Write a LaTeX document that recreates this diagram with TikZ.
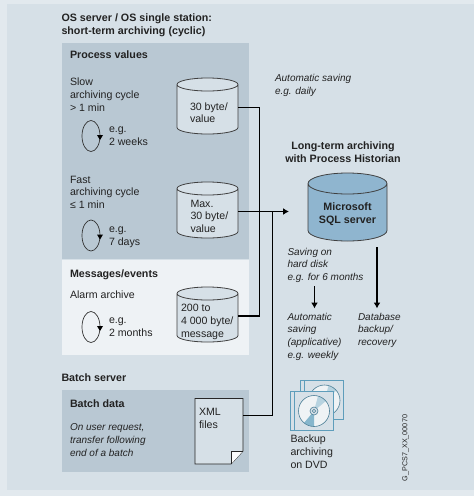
\documentclass[tikz,border=0pt]{standalone}
\usepackage{fontspec}
\setmainfont{Liberation Sans}
\usetikzlibrary{arrows.meta,calc}
\definecolor{bgc}{HTML}{D6E0E7}
\definecolor{rimc}{HTML}{E2E9EE}
\definecolor{panelc}{HTML}{B9C8D3}
\definecolor{lightc}{HTML}{EEF2F5}
\definecolor{cylc}{HTML}{D6E0E7}
\definecolor{sqlc}{HTML}{8FB5CF}
\definecolor{txtc}{HTML}{222222}
\definecolor{dvdc}{HTML}{5E9DBB}
\tikzset{
  every node/.style={text=txtc,inner sep=0pt,outer sep=0pt},
  lbl/.style={font=\fontsize{10.6}{12.6}\selectfont,anchor=north west,align=left},
  hd/.style={lbl,font=\fontsize{10.7}{12.8}\selectfont\bfseries},
  it/.style={lbl,font=\fontsize{10}{12.6}\selectfont\itshape},
  conn/.style={draw=black,line width=1.4pt},
  arr/.style={conn,-{Latex[length=6pt,width=7pt]}},
  panel/.style={fill=panelc,draw=none}
}
% cylinder: cx, top, bottom, rx, ry, fill, name
\newcommand{\mycyl}[7]{%
  \fill[#6] (#1-#4,#2+#5) -- (#1-#4,#3-#5) arc[start angle=180,end angle=0,x radius=#4,y radius=#5] -- (#1+#4,#2+#5) arc[start angle=0,end angle=-180,x radius=#4,y radius=#5] -- cycle;
  \draw[line width=0.8pt,draw=black!75] (#1-#4,#3-#5) -- (#1-#4,#2+#5) arc[start angle=180,end angle=540,x radius=#4,y radius=#5] (#1+#4,#2+#5) -- (#1+#4,#3-#5) arc[start angle=0,end angle=180,x radius=#4,y radius=#5];
  \coordinate (#7) at (#1+#4,{(#2+#3)/2});
}
\newcommand{\mycycle}[2]{%
  \draw[line width=0.7pt,draw=black!80] (#1,#2) ellipse[x radius=9,y radius=15.5];
  \fill[black] (#1+9,#2+4) -- (#1+6,#2-1) -- (#1+12,#2-1) -- cycle;
}
\newcommand{\mydvd}[3]{%
  \draw[draw=dvdc,fill=#3,line width=0.8pt] (#1,#2) rectangle ++(43,39);
  \draw[draw=dvdc,line width=0.8pt] (#1+4,#2) -- ++(0,39);
  \fill[white!60!bgc] (#1+24,#2+20) circle[radius=15.5];
  \fill[dvdc!75] (#1+24,#2+20) -- ++(90:15.5) arc[start angle=90,end angle=130,radius=15.5] -- cycle;
  \fill[dvdc!45] (#1+24,#2+20) -- ++(-40:15.5) arc[start angle=-40,end angle=-75,radius=15.5] -- cycle;
  \draw[draw=dvdc!80!black,fill=#3,line width=0.6pt] (#1+24,#2+20) circle[radius=4];
  \draw[draw=dvdc!80!black,line width=0.5pt] (#1+24,#2+20) circle[radius=1.7];
  \draw[draw=dvdc!80!black,line width=0.6pt] (#1+24,#2+20) circle[radius=15.5];
}
\begin{document}
\begin{tikzpicture}[x=1pt,y=-1pt]
\useasboundingbox (0,0) rectangle (474,496);
\fill[rimc] (0,0) rectangle (474,496);
\fill[bgc] (7,4) rectangle (474,490);
% panels
\fill[panel] (62,43) rectangle (249,259);
\fill[lightc] (62,260) rectangle (249,355);
\fill[panel] (62,390) rectangle (249,472);
% texts
\node[hd] (t1) at (61.5,13.5) {OS server / OS single station:\\short-term archiving (cyclic)};
\node[hd] (t2) at (70,51) {Process values};
\node[lbl,font=\fontsize{10.6}{13}\selectfont] (t3) at (70,78) {Slow\\archiving cycle\\> 1 min};
\node[lbl] (t4) at (109,127) {e.g.\\2 weeks};
\node[lbl] (t5) at (70,176) {Fast\\archiving cycle\\≤ 1 min};
\node[lbl] (t6) at (109,227) {e.g.\\7 days};
\node[hd] (t7) at (70,269.5) {Messages/events};
\node[lbl] (t8) at (70,291) {Alarm archive};
\node[lbl] (t9) at (109,318) {e.g.\\2 months};
\node[hd] (t10) at (61.5,374) {Batch server};
\node[hd] (t11) at (70,400) {Batch data};
\node[it] (t12) at (70,424) {On user request,\\transfer following\\end of a batch};
\node[it,font=\fontsize{10}{13}\selectfont\itshape] (t13) at (275,74.5) {Automatic saving\\e.g. daily};
\node[hd,align=center,anchor=north] (t14) at (343,142) {Long-term archiving\\with Process Historian};
\node[it] (t15) at (287.5,248) {Saving on\\hard disk\\e.g. for 6 months};
\node[it] (t16) at (287.5,313) {Automatic\\saving\\(applicative)\\e.g. weekly};
\node[it] (t17) at (358,313) {Database\\backup/\\recovery};
\node[lbl,font=\fontsize{10.6}{13}\selectfont] (t18) at (290.5,434.5) {Backup\\archiving\\on DVD};
\node[font=\fontsize{7.2}{8}\selectfont,rotate=90] (t19) at (405.5,448) {G\_PCS7\_XX\_00070};
% cylinders
\mycyl{207.5}{78}{134}{30.5}{6.5}{fill=cylc}{c1}
\mycyl{207.5}{182}{238}{30.5}{6.5}{fill=cylc}{c2}
\mycyl{207.5}{287}{342}{30.5}{6.5}{fill=cylc}{c3}
\mycyl{347.5}{173}{241}{39.5}{10.5}{fill=sqlc}{c4}
\node[lbl] (v1) at (190,102.5) {30 byte/\\value};
\node[lbl] (v2) at (190.5,200) {Max.\\30 byte/\\value};
\node[lbl] (v3) at (181,304.5) {200 to\\4 000 byte/\\message};
\node[hd,align=center,anchor=center] (v4) at (347.5,214.5) {Microsoft\\SQL server};
% cycle marks
\mycycle{91}{136}
\mycycle{91}{235.5}
\mycycle{91}{327}
% document
\draw[fill=cylc,draw=black!85,line width=0.8pt] (195,398.5) -- (243,398.5) -- (243,451) -- (231,464) -- (195,464) -- cycle;
\fill[white!90!bgc] (231,464) -- (243,451) -- (231,451) -- cycle;
\draw[draw=black!85,line width=0.6pt] (243,451) -- (231,451) -- (231,464);
\node[lbl] (v5) at (199,408.5) {XML\\files};
\coordinate (docr) at (243,415.5);
% connectors
\coordinate (b1) at (259.5,107.5);
\coordinate (b2) at (259.5,316);
\coordinate (j1) at (272.5,211.5);
\coordinate (j2) at (272.5,415.5);
\coordinate (tip) at (289,211.5);
\draw[conn] (c1) ++(0,1.5) -- (b1) -- (b2) -- (238,316);
\draw[arr] (238,211.5) -- (tip);
\draw[conn] (j1) -- (j2) -- (docr);
\coordinate (a1s) at (377,247);\coordinate (a1e) at (377,308.5);
\coordinate (a2s) at (314.5,286);\coordinate (a2e) at (314.5,308.5);
\draw[arr] (a1s) -- (a1e);
\draw[arr] (a2s) -- (a2e);
% DVDs
\mydvd{300.5}{380.5}{bgc}
\mydvd{290}{391}{bgc}
\end{tikzpicture}
\end{document}
